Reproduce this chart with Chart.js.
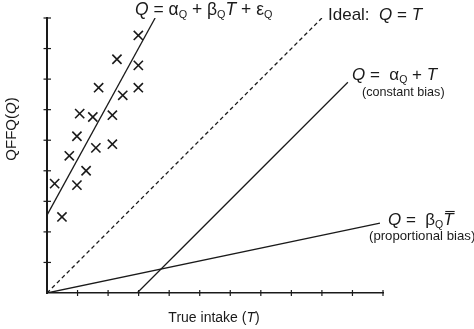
<!DOCTYPE html>
<html>
<head>
<meta charset="utf-8">
<script src="https://cdn.jsdelivr.net/npm/chart.js@4/dist/chart.umd.min.js"></script>
<style>
  html, body { margin: 0; padding: 0; background: #fff; }
  #chart { display: block; }
</style>
</head>
<body>
<canvas id="chart" width="474" height="329"></canvas>
<script>
// --- data (units: true intake T, QFFQ Q) ---
const scatterT = [2.99, 2.29, 2.99, 1.69, 2.99, 2.48, 1.07, 1.50, 2.14, 0.98, 1.60, 2.14, 0.73, 1.28, 0.25, 0.98, 0.49];
const scatterQ = [8.43, 7.65, 7.45, 6.72, 6.72, 6.47, 5.87, 5.76, 5.82, 5.13, 4.75, 4.87, 4.49, 4.00, 3.58, 3.53, 2.49];

const regressionT = [0, 3.54];
const regressionQ = [2.55, 9.0];
const idealT = [0, 9];
const idealQ = [0, 9];
const constantT = [2.95, 9.85];
const constantQ = [0, 6.9];
const proportionalT = [0, 10.9];
const proportionalQ = [0, 2.29];

const xTicks = [1, 2, 3, 4, 5, 6, 7, 8, 9, 10, 11];
const yTicks = [1, 2, 3, 4, 5, 6, 7, 8, 9];

const INK = '#1a1a1a';
const FONT = '"Liberation Sans", Arial, sans-serif';

function toPoints(xs, ys) {
    return xs.map((x, i) => ({ x: x, y: ys[i] }));
}

function lineSet(xs, ys, dash) {
    return {
        data: toPoints(xs, ys),
        showLine: true,
        borderColor: INK,
        borderWidth: 1.3,
        borderDash: dash || [],
        pointRadius: 0,
        fill: false
    };
}

// draws a run of text pieces: {t, it (italic), sub, bar (overline)}
function drawRun(ctx, x, y, size, parts) {
    ctx.textBaseline = 'middle';
    ctx.textAlign = 'left';
    parts.forEach(p => {
        const s = p.sub ? size * 0.62 : size;
        ctx.font = (p.it ? 'italic ' : '') + s + 'px ' + FONT;
        const dy = p.sub ? size * 0.28 : 0;
        ctx.fillText(p.t, x, y + dy);
        const w = ctx.measureText(p.t).width;
        if (p.bar) {
            ctx.beginPath();
            ctx.lineWidth = 1.1;
            ctx.moveTo(x + 2, y - size * 0.5);
            ctx.lineTo(x + w + 1, y - size * 0.5);
            ctx.stroke();
        }
        x += w;
    });
}

const decorPlugin = {
    id: 'decor',
    afterDraw(chart) {
        const ctx = chart.ctx;
        const xs = chart.scales.x, ys = chart.scales.y;
        const area = chart.chartArea;
        ctx.save();
        ctx.strokeStyle = INK;
        ctx.fillStyle = INK;

        // cross tick marks on both axes
        ctx.lineWidth = 1.2;
        yTicks.forEach(v => {
            const py = ys.getPixelForValue(v);
            ctx.beginPath();
            ctx.moveTo(area.left - 3.5, py);
            ctx.lineTo(area.left + 4, py);
            ctx.stroke();
        });
        xTicks.forEach(v => {
            const px = xs.getPixelForValue(v);
            ctx.beginPath();
            ctx.moveTo(px, area.bottom - 3);
            ctx.lineTo(px, area.bottom + 3);
            ctx.stroke();
        });

        // equation labels
        drawRun(ctx, 135, 10, 17.5, [
            { t: 'Q', it: true }, { t: ' = α' }, { t: 'Q', sub: true },
            { t: ' + β' }, { t: 'Q', sub: true }, { t: 'T', it: true },
            { t: ' + ε' }, { t: 'Q', sub: true }
        ]);
        drawRun(ctx, 328, 15, 17, [
            { t: 'Ideal:  ' }, { t: 'Q', it: true }, { t: ' = ' }, { t: 'T', it: true }
        ]);
        drawRun(ctx, 352, 75, 17, [
            { t: 'Q', it: true }, { t: ' =  α' }, { t: 'Q', sub: true },
            { t: ' + ' }, { t: 'T', it: true }
        ]);
        drawRun(ctx, 362, 93, 12.6, [{ t: '(constant bias)' }]);
        drawRun(ctx, 388, 220, 17, [
            { t: 'Q', it: true }, { t: ' =  β' }, { t: 'Q', sub: true },
            { t: 'T', it: true, bar: true }
        ]);
        drawRun(ctx, 369, 236, 13.2, [{ t: '(proportional bias)' }]);

        // axis titles
        const xTitleA = 'True intake (';
        ctx.font = '14px ' + FONT;
        const wa = ctx.measureText(xTitleA).width;
        ctx.font = 'italic 14px ' + FONT;
        const wb = ctx.measureText('T').width;
        ctx.font = '14px ' + FONT;
        const wc = ctx.measureText(')').width;
        const startX = 214 - (wa + wb + wc) / 2;
        drawRun(ctx, startX, 318, 14, [{ t: xTitleA }, { t: 'T', it: true }, { t: ')' }]);

        ctx.translate(12, 129);
        ctx.rotate(-Math.PI / 2);
        ctx.font = '15px ' + FONT;
        const w1 = ctx.measureText('QFFQ(').width;
        ctx.font = 'italic 15px ' + FONT;
        const w2 = ctx.measureText('Q').width;
        ctx.font = '15px ' + FONT;
        const w3 = ctx.measureText(')').width;
        drawRun(ctx, -(w1 + w2 + w3) / 2, 0, 15, [{ t: 'QFFQ(' }, { t: 'Q', it: true }, { t: ')' }]);

        ctx.restore();
    }
};

new Chart(document.getElementById('chart'), {
    type: 'scatter',
    data: {
        datasets: [
            {
                data: toPoints(scatterT, scatterQ),
                pointStyle: 'crossRot',
                pointRadius: 6.5,
                pointBorderWidth: 1.6,
                borderColor: INK,
                showLine: false
            },
            lineSet(regressionT, regressionQ),
            lineSet(idealT, idealQ, [4, 3]),
            lineSet(constantT, constantQ),
            lineSet(proportionalT, proportionalQ)
        ]
    },
    options: {
        responsive: false,
        animation: false,
        layout: { padding: { left: 47, top: 18, right: 91, bottom: 36 } },
        plugins: { legend: { display: false }, tooltip: { enabled: false } },
        scales: {
            x: {
                type: 'linear', min: 0, max: 11,
                grid: { display: false },
                ticks: { display: false },
                border: { display: true, color: INK, width: 1.5 },
                afterFit: s => { s.height = 0; }
            },
            y: {
                type: 'linear', min: 0, max: 9,
                grid: { display: false },
                ticks: { display: false },
                border: { display: true, color: INK, width: 2 },
                afterFit: s => { s.width = 0; }
            }
        }
    },
    plugins: [decorPlugin]
});
</script>
</body>
</html>
